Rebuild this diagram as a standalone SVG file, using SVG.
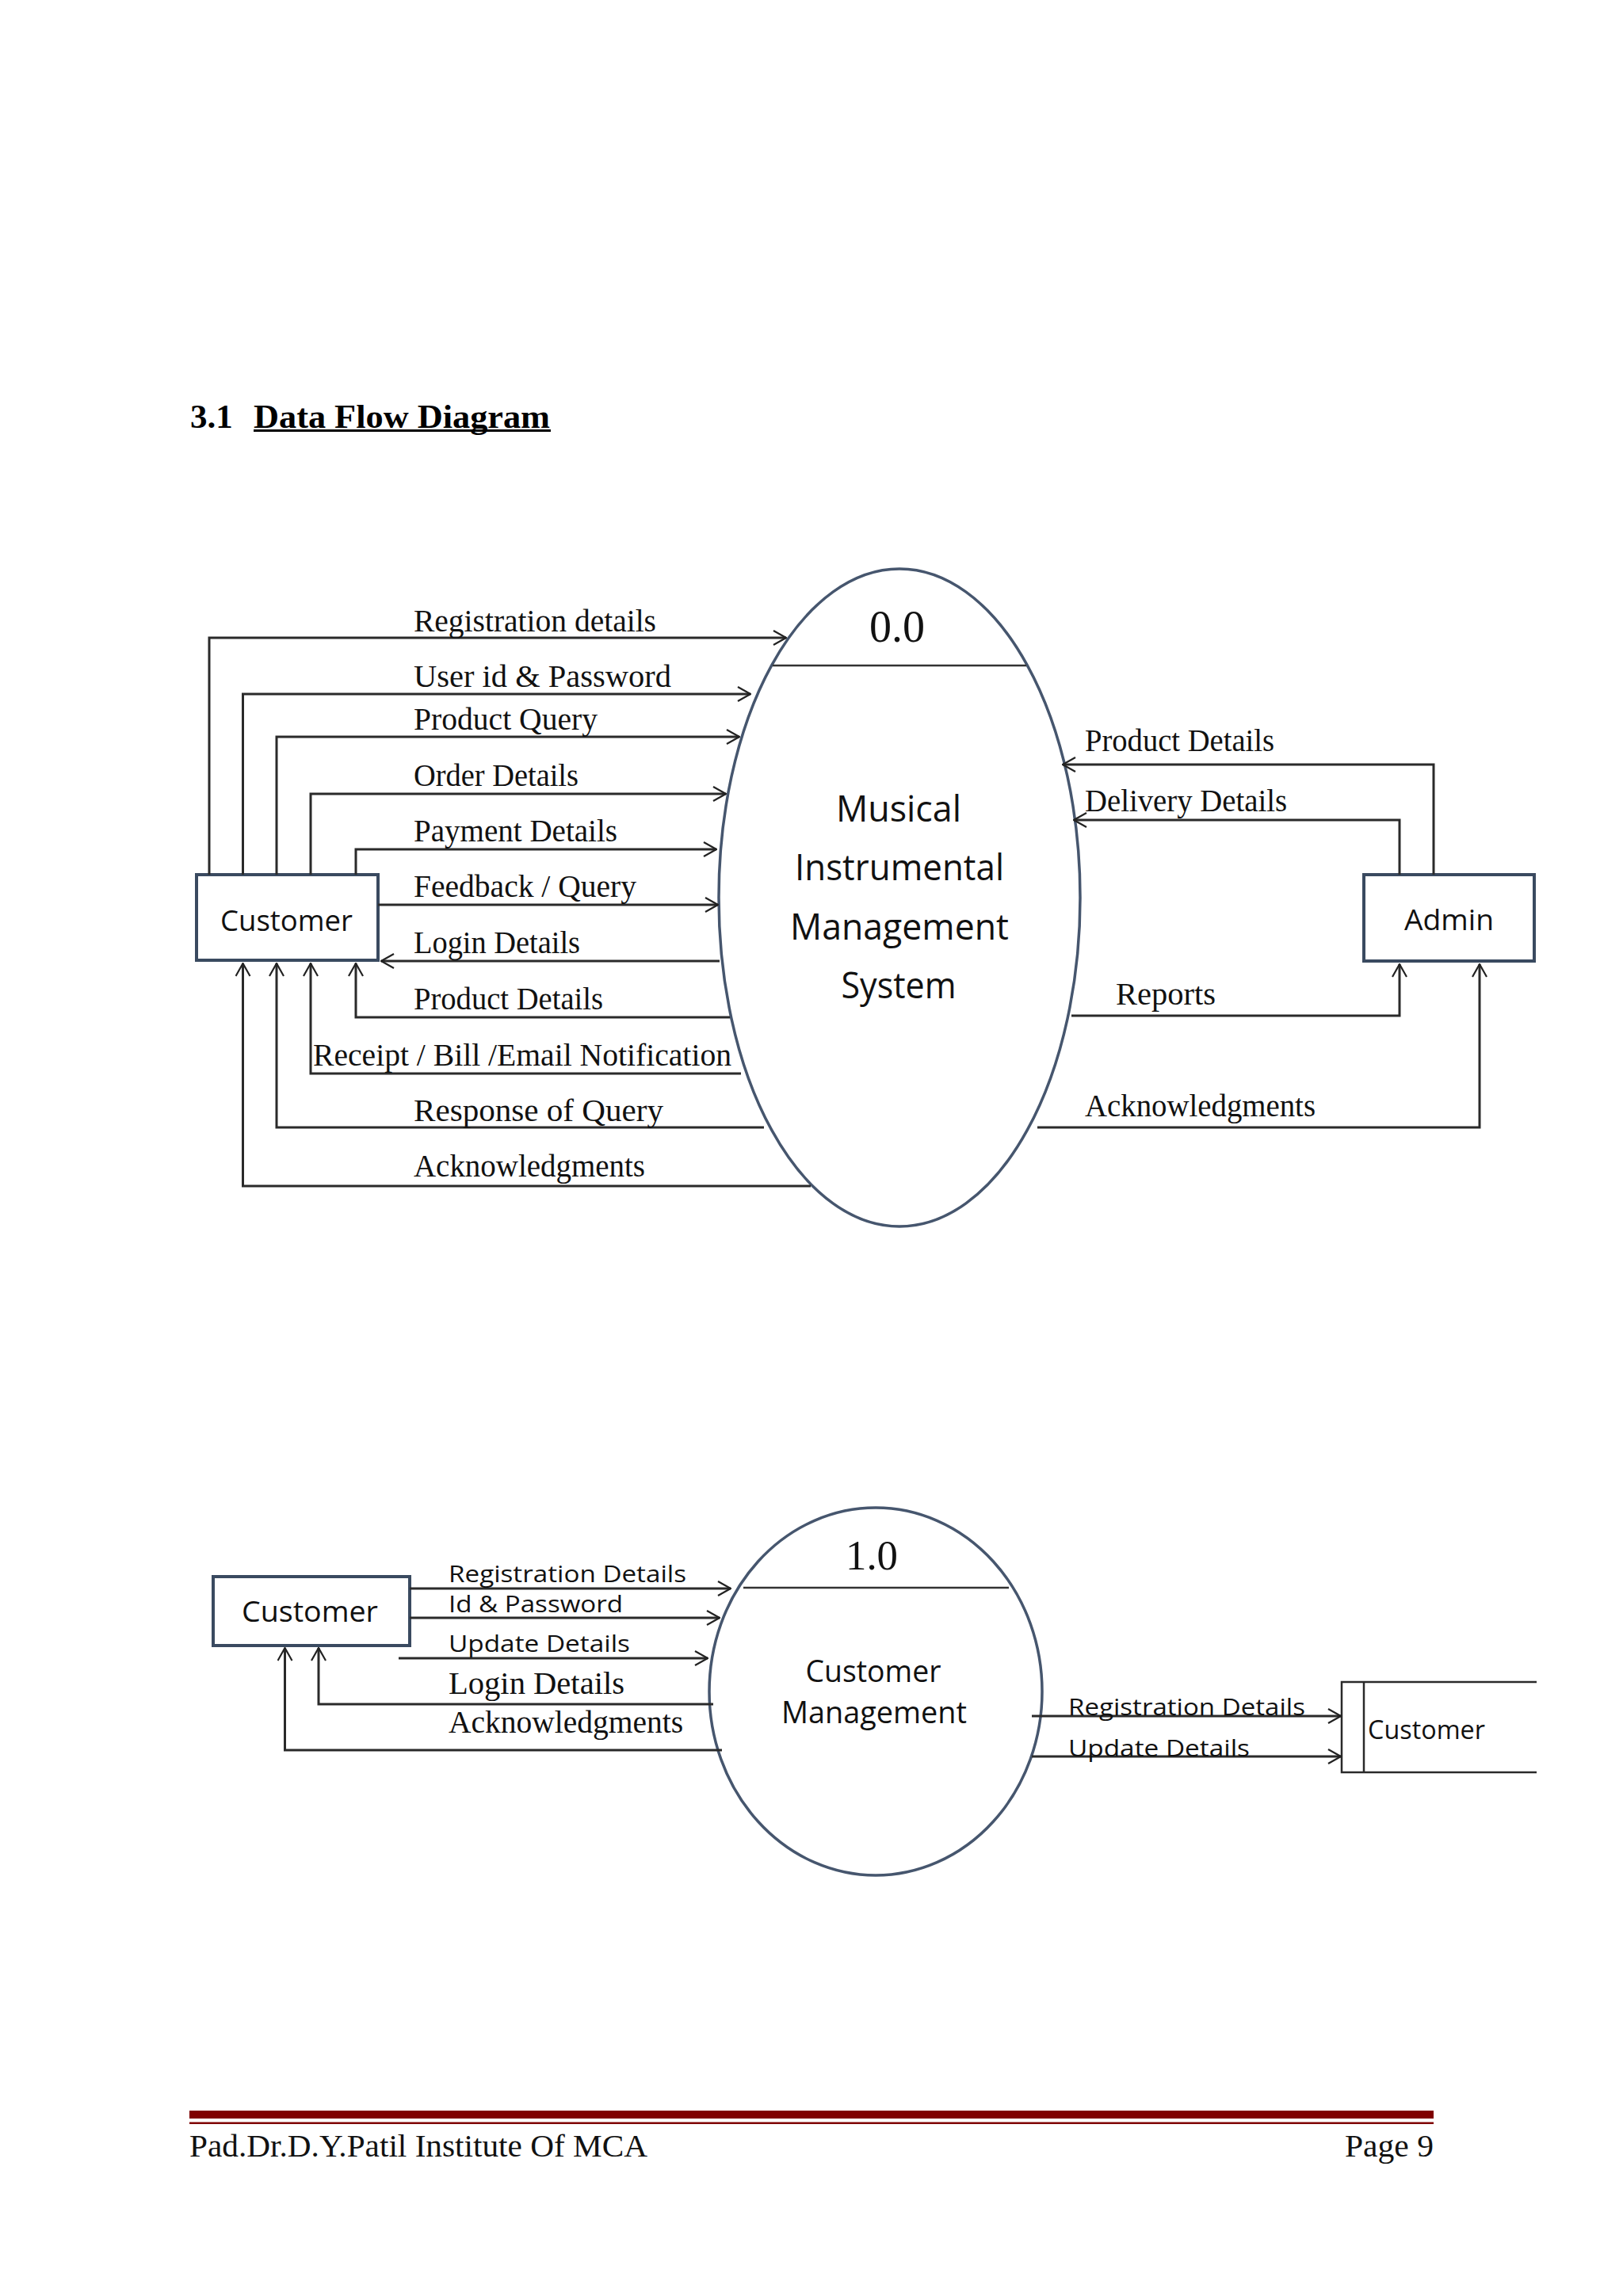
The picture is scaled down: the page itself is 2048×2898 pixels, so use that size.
<svg xmlns="http://www.w3.org/2000/svg" width="2048" height="2898" viewBox="0 0 2048 2898">
<defs>
<style>
.ln{fill:none;stroke:#2a2a2a;stroke-width:3}
.box{fill:#fff;stroke:#3a4a60;stroke-width:4}
.ell{fill:#fff;stroke:#46566e;stroke-width:3.5}
.div{stroke:#333;stroke-width:2.5}
.ser{font-family:"Liberation Serif","Times New Roman",serif;font-size:40px;fill:#111}
.sans{font-family:"Open Sans","Liberation Sans",sans-serif;fill:#111}
.st{fill:none;stroke:#2a2a2a;stroke-width:2.5}
</style>
<marker id="ah" viewBox="0 0 20 20" refX="19" refY="10" markerWidth="20" markerHeight="20" markerUnits="userSpaceOnUse" orient="auto">
<path d="M3,1 L19,10 L3,19" fill="none" stroke="#222" stroke-width="2.2"/>
</marker>
</defs>
<rect width="2048" height="2898" fill="#fff"/>

<g id="title">
<text x="240" y="540" font-family="'Liberation Serif','Times New Roman',serif" font-weight="bold" font-size="43" fill="#000">3.1</text>
<text x="320" y="540" font-family="'Liberation Serif','Times New Roman',serif" font-weight="bold" font-size="43" fill="#000" textLength="374" lengthAdjust="spacingAndGlyphs">Data Flow Diagram</text>
<rect x="320" y="542" width="375" height="3" fill="#000"/>
</g>

<!-- Top diagram nodes -->
<g id="process-0">
<ellipse class="ell" cx="1135" cy="1133" rx="228" ry="415"/>
<line class="div" x1="975" y1="840" x2="1295" y2="840"/>
<text x="1132" y="810" text-anchor="middle" font-family="'Liberation Serif','Times New Roman',serif" font-size="58" fill="#111" textLength="70" lengthAdjust="spacingAndGlyphs">0.0</text>
<text class="sans" x="1134" y="1037" text-anchor="middle" font-size="46" textLength="158" lengthAdjust="spacingAndGlyphs">Musical</text>
<text class="sans" x="1135" y="1111" text-anchor="middle" font-size="46" textLength="264" lengthAdjust="spacingAndGlyphs">Instrumental</text>
<text class="sans" x="1135" y="1186" text-anchor="middle" font-size="46" textLength="276" lengthAdjust="spacingAndGlyphs">Management</text>
<text class="sans" x="1134" y="1260" text-anchor="middle" font-size="46" textLength="145" lengthAdjust="spacingAndGlyphs">System</text>
</g>
<g id="customer-top">
<rect class="box" x="248" y="1104" width="229" height="108"/>
<text class="sans" x="278" y="1175" font-size="36" textLength="167" lengthAdjust="spacingAndGlyphs">Customer</text>
</g>
<g id="admin">
<rect class="box" x="1721" y="1104" width="215" height="109"/>
<text class="sans" x="1772" y="1174" font-size="37" textLength="113" lengthAdjust="spacingAndGlyphs">Admin</text>
</g>

<!-- Bottom diagram nodes -->
<g id="customer-bottom">
<rect class="box" x="269" y="1990" width="248" height="87"/>
<text class="sans" x="305" y="2047" font-size="37" textLength="172" lengthAdjust="spacingAndGlyphs">Customer</text>
</g>
<g id="process-1">
<ellipse class="ell" cx="1105" cy="2135" rx="210" ry="232"/>
<line class="div" x1="938" y1="2004" x2="1273" y2="2004"/>
<text x="1100" y="1981" text-anchor="middle" font-family="'Liberation Serif','Times New Roman',serif" font-size="53" fill="#111" textLength="66" lengthAdjust="spacingAndGlyphs">1.0</text>
<text class="sans" x="1102" y="2123" text-anchor="middle" font-size="38" textLength="171" lengthAdjust="spacingAndGlyphs">Customer</text>
<text class="sans" x="1103" y="2175" text-anchor="middle" font-size="38" textLength="234" lengthAdjust="spacingAndGlyphs">Management</text>
</g>
<g id="datastore-customer">
<path class="st" d="M1939,2123 H1693 V2237 H1939"/>
<line class="st" x1="1721" y1="2123" x2="1721" y2="2237"/>
<text class="sans" x="1726" y="2195" font-size="32" textLength="148" lengthAdjust="spacingAndGlyphs">Customer</text>
</g>

<g id="connectors">
<!-- top left, customer to process -->
<path class="ln" d="M264,1104 V805 H992" marker-end="url(#ah)"/>
<path class="ln" d="M306.5,1104 V876 H947" marker-end="url(#ah)"/>
<path class="ln" d="M349,1104 V930 H933" marker-end="url(#ah)"/>
<path class="ln" d="M392,1104 V1002 H916" marker-end="url(#ah)"/>
<path class="ln" d="M449,1104 V1072 H904" marker-end="url(#ah)"/>
<path class="ln" d="M477,1142 H906" marker-end="url(#ah)"/>
<path class="ln" d="M908,1213 H481" marker-end="url(#ah)"/>
<path class="ln" d="M921,1284 H449 V1216" marker-end="url(#ah)"/>
<path class="ln" d="M935,1355 H392 V1216" marker-end="url(#ah)"/>
<path class="ln" d="M964,1423 H349 V1216" marker-end="url(#ah)"/>
<path class="ln" d="M1023,1497 H306.5 V1216" marker-end="url(#ah)"/>
<!-- top right, admin -->
<path class="ln" d="M1809,1104 V965 H1341" marker-end="url(#ah)"/>
<path class="ln" d="M1766,1104 V1035 H1355" marker-end="url(#ah)"/>
<path class="ln" d="M1352,1282 H1766 V1217" marker-end="url(#ah)"/>
<path class="ln" d="M1309,1423 H1867 V1217" marker-end="url(#ah)"/>
<!-- bottom -->
<path class="ln" d="M517,2005 H922" marker-end="url(#ah)"/>
<path class="ln" d="M517,2042 H908" marker-end="url(#ah)"/>
<path class="ln" d="M503,2093 H893" marker-end="url(#ah)"/>
<path class="ln" d="M900,2151 H402 V2080" marker-end="url(#ah)"/>
<path class="ln" d="M911,2209 H359.5 V2080" marker-end="url(#ah)"/>
<path class="ln" d="M1302,2166 H1692" marker-end="url(#ah)"/>
<path class="ln" d="M1302,2217 H1692" marker-end="url(#ah)"/>

<!-- labels -->
<text class="ser" x="522" y="797" textLength="306" lengthAdjust="spacingAndGlyphs">Registration  details</text>
<text class="ser" x="522" y="867" textLength="325" lengthAdjust="spacingAndGlyphs">User id &amp; Password</text>
<text class="ser" x="522" y="921" textLength="232" lengthAdjust="spacingAndGlyphs">Product Query</text>
<text class="ser" x="522" y="992" textLength="208" lengthAdjust="spacingAndGlyphs">Order Details</text>
<text class="ser" x="522" y="1062" textLength="257" lengthAdjust="spacingAndGlyphs">Payment  Details</text>
<text class="ser" x="522" y="1132" textLength="281" lengthAdjust="spacingAndGlyphs">Feedback / Query</text>
<text class="ser" x="522" y="1203" textLength="210" lengthAdjust="spacingAndGlyphs">Login Details</text>
<text class="ser" x="522" y="1274" textLength="239" lengthAdjust="spacingAndGlyphs">Product Details</text>
<text class="ser" x="395" y="1345" textLength="528" lengthAdjust="spacingAndGlyphs">Receipt / Bill  /Email  Notification</text>
<text class="ser" x="522" y="1415" textLength="315" lengthAdjust="spacingAndGlyphs">Response of  Query</text>
<text class="ser" x="522" y="1485" textLength="292" lengthAdjust="spacingAndGlyphs">Acknowledgments</text>
<text class="ser" x="1369" y="948" textLength="239" lengthAdjust="spacingAndGlyphs">Product Details</text>
<text class="ser" x="1369" y="1024" textLength="255" lengthAdjust="spacingAndGlyphs">Delivery  Details</text>
<text class="ser" x="1408" y="1268" textLength="126" lengthAdjust="spacingAndGlyphs">Reports</text>
<text class="ser" x="1369" y="1409" textLength="291" lengthAdjust="spacingAndGlyphs">Acknowledgments</text>

<text class="sans" x="566" y="1997" font-size="29" textLength="300" lengthAdjust="spacingAndGlyphs">Registration Details</text>
<text class="sans" x="566" y="2035" font-size="29" textLength="220" lengthAdjust="spacingAndGlyphs">Id &amp; Password</text>
<text class="sans" x="566" y="2085" font-size="29" textLength="229" lengthAdjust="spacingAndGlyphs">Update Details</text>
<text class="ser" x="566" y="2138" font-size="38" textLength="222" lengthAdjust="spacingAndGlyphs">Login  Details</text>
<text class="ser" x="566" y="2187" font-size="39" textLength="296" lengthAdjust="spacingAndGlyphs">Acknowledgments</text>
<text class="sans" x="1348" y="2165" font-size="29" textLength="299" lengthAdjust="spacingAndGlyphs">Registration Details</text>
<text class="sans" x="1348" y="2217" font-size="29" textLength="229" lengthAdjust="spacingAndGlyphs">Update Details</text>
</g>

<g id="footer">
<rect x="239" y="2664" width="1570" height="10" fill="#7f0000"/>
<rect x="239" y="2678.5" width="1570" height="2.5" fill="#7f0000"/>
<text x="239" y="2722" font-family="'Liberation Serif','Times New Roman',serif" font-size="40" fill="#111" textLength="578" lengthAdjust="spacingAndGlyphs">Pad.Dr.D.Y.Patil Institute Of MCA</text>
<text x="1697" y="2722" font-family="'Liberation Serif','Times New Roman',serif" font-size="40" fill="#111" textLength="112" lengthAdjust="spacingAndGlyphs">Page 9</text>
</g>
</svg>
